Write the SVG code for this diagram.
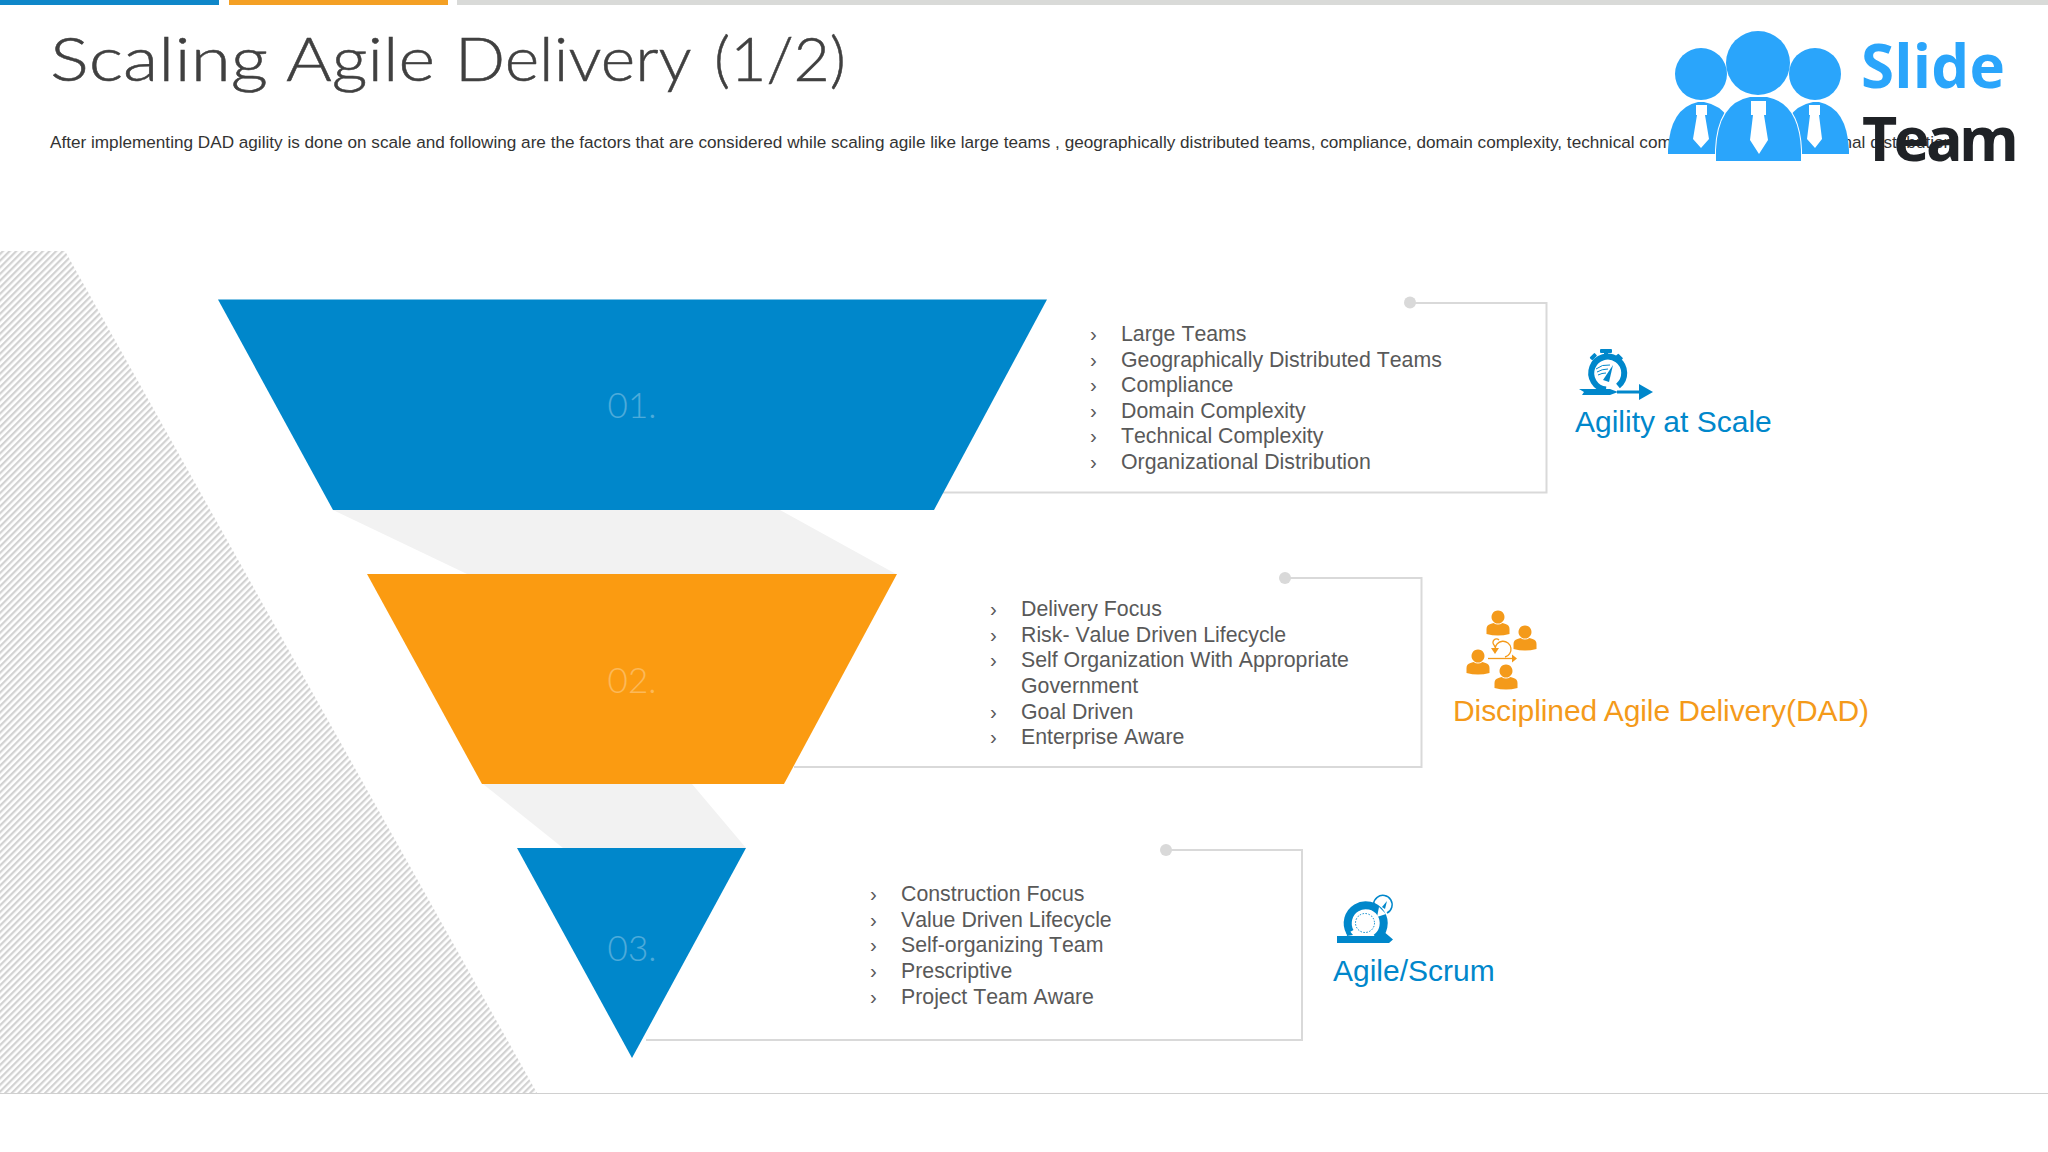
<svg xmlns="http://www.w3.org/2000/svg" width="2048" height="1152" viewBox="0 0 2048 1152">
<style>
.li{font:21.3px "Liberation Sans",Arial,sans-serif;font-kerning:none;fill:#595959}
.ch{font:20.5px "Liberation Sans",Arial,sans-serif;fill:#595959}
.num{font:300 35px "Lato","Liberation Sans",sans-serif;text-anchor:middle;opacity:.3;fill:#fff}
.lab{font:30px "Liberation Sans",Arial,sans-serif}
.conn{fill:none;stroke:#d9d9d9;stroke-width:2}
.blue{fill:#0087cb}.or{fill:#fb9b11}.gap{fill:#f2f2f2}
</style>
<defs>
<pattern id="hatch" width="4.700" height="4.700" patternUnits="userSpaceOnUse" patternTransform="rotate(-45)">
<rect width="4.700" height="4.700" fill="#fff"/><rect width="4.700" height="2.200" fill="#d2d2d2"/>
</pattern>
<path id="person" d="M0-6.500a6.500 6.500 0 1 1-.01 0zM-11.500 17v-5q0-4 4-5l3-1q4.500 3 9 0l3 1q4 1 4 5v5q-11.500 3-23 0z"/>
</defs>
<rect width="2048" height="1152" fill="#fff"/>
<rect x="0" y="0" width="219" height="5" fill="#0f87c9"/>
<rect x="229" y="0" width="219" height="5" fill="#f4a024"/>
<rect x="457" y="0" width="1591" height="5" fill="#d9dad8"/>
<text y="81" style="font:300 61px Lato,'Liberation Sans',sans-serif;fill:#404040;stroke:#404040;stroke-width:.5"><tspan x="50" textLength="218" lengthAdjust="spacingAndGlyphs">Scaling</tspan> <tspan x="286" textLength="149" lengthAdjust="spacingAndGlyphs">Agile</tspan> <tspan x="455" textLength="235" lengthAdjust="spacingAndGlyphs">Delivery</tspan> <tspan x="714" textLength="132" lengthAdjust="spacingAndGlyphs">(1/2)</tspan></text>
<text x="50" y="148" style="font:17.17px 'Liberation Sans',Arial,sans-serif;fill:#333">After implementing DAD agility is done on scale and following are the factors that are considered while scaling agile like large teams , geographically distributed teams, compliance, domain complexity, technical complexity and organizational distribution.</text>
<polygon points="0,251 65,251 537,1093 0,1093" fill="url(#hatch)"/>
<rect x="0" y="1093" width="2048" height="1" fill="#d0d0d0"/>
<g id="connectors">
<path class="conn" d="M1410 303H1546.500V492.500H940"/><circle cx="1410" cy="302.500" r="6" fill="#d9d9d9"/>
<path class="conn" d="M1285 578H1421.500V767H794"/><circle cx="1285" cy="578" r="6" fill="#d9d9d9"/>
<path class="conn" d="M1166 850H1302V1040H646"/><circle cx="1166" cy="850" r="6" fill="#d9d9d9"/>
</g>
<polygon class="gap" points="333,510 780,510 896,574 467,574"/>
<polygon class="gap" points="483,784 692,784 746,848 563,848"/>
<g id="node1">
<polygon class="blue" points="218,299.500 1047,299.500 934,510 333,510"/>
<text class="num" x="632" y="418">01.</text>
<g class="li"><text x="1121" y="341">Large Teams</text><text x="1121" y="366.500">Geographically Distributed Teams</text><text x="1121" y="392">Compliance</text><text x="1121" y="417.500">Domain Complexity</text><text x="1121" y="443">Technical Complexity</text><text x="1121" y="468.500">Organizational Distribution</text></g>
<g class="ch"><text x="1090" y="341">›</text><text x="1090" y="366.500">›</text><text x="1090" y="392">›</text><text x="1090" y="417.500">›</text><text x="1090" y="443">›</text><text x="1090" y="468.500">›</text></g>
<g fill="#0087cb">
<rect x="1600" y="349" width="12" height="4" rx="1"/><rect x="1604" y="352" width="4" height="5"/>
<rect x="1590" y="355" width="7" height="4" rx="1" transform="rotate(-45 1593 357)"/><rect x="1616" y="355" width="7" height="4" rx="1" transform="rotate(45 1619 357)"/>
<path d="M1618 386A16.500 16.500 0 1 0 1606 389.500" fill="none" stroke="#0087cb" stroke-width="6"/>
<path d="M1579 389H1610L1618 392 1610 395H1582l2-3z"/><path d="M1617 390.500h22v-6.500l14 8-14 8v-6.500h-22z"/>
<path d="M1603 380l10-15-4 17z"/>
<g fill="none" stroke="#0087cb" stroke-width="1"><path d="M1596 369q6-5 14-4"/><path d="M1597 372q5-3 11-3"/><path d="M1598 375q4-2 8-2"/></g>
</g>
<text class="lab" x="1575" y="432" fill="#0087cb">Agility at Scale</text>
</g>
<g id="node2">
<polygon class="or" points="367,574 897,574 784,784 482,784"/>
<text class="num" x="632" y="693">02.</text>
<g class="li"><text x="1021" y="616">Delivery Focus</text><text x="1021" y="642">Risk- Value Driven Lifecycle</text><text x="1021" y="667">Self Organization With Appropriate</text><text x="1021" y="693">Government</text><text x="1021" y="718.500">Goal Driven</text><text x="1021" y="744">Enterprise Aware</text></g>
<g class="ch"><text x="990" y="616">›</text><text x="990" y="642">›</text><text x="990" y="667">›</text><text x="990" y="718.500">›</text><text x="990" y="744">›</text></g>
<g fill="#f49a1a">
<use href="#person" x="1498" y="617"/><use href="#person" x="1525" y="632"/><use href="#person" x="1478" y="656"/><use href="#person" x="1506" y="671"/>
</g>
<g fill="none" stroke="#f49a1a" stroke-width="1.300"><path d="M1488 658.500H1513"/><path d="M1505 657a8 8 0 1 0-10-8"/><path d="M1499 640a3.500 3.500 0 1 0-5 5l1 2"/></g>
<polygon points="1512,654.500 1517,658.500 1512,662.500" fill="#f49a1a"/><polygon points="1491,648 1499,648 1495,654" fill="#f49a1a"/>
<text class="lab" x="1453" y="720.500" fill="#f49a1a" textLength="416">Disciplined Agile Delivery(DAD)</text>
</g>
<g id="node3">
<polygon class="blue" points="517,848 746,848 632,1058"/>
<text class="num" x="632" y="961">03.</text>
<g class="li"><text x="901" y="901">Construction Focus</text><text x="901" y="927">Value Driven Lifecycle</text><text x="901" y="952">Self-organizing Team</text><text x="901" y="978">Prescriptive</text><text x="901" y="1004">Project Team Aware</text></g>
<g class="ch"><text x="870" y="901">›</text><text x="870" y="927">›</text><text x="870" y="952">›</text><text x="870" y="978">›</text><text x="870" y="1004">›</text></g>
<g fill="#0087cb">
<path d="M1350 932A18 18 0 1 1 1376 938" fill="none" stroke="#0087cb" stroke-width="8"/>
<path d="M1337 936h40l6-5 6 5h0l4 3.500-4 3.500h-52z"/><path d="M1345 925l8 10-6 1z"/>
<path d="M1379 907l-2 10 9-3z" fill="#fff"/>
<circle cx="1365" cy="923" r="9.500" fill="none" stroke="#0087cb" stroke-width="1" stroke-dasharray="1.500 1.500"/>
<path d="M1376 911a9.300 9.300 0 1 1 11 2" fill="none" stroke="#0087cb" stroke-width="1.500"/>
<path d="M1382 907l5-6-2 8z"/>
</g>
<text class="lab" x="1333" y="981" fill="#0087cb">Agile/Scrum</text>
</g>
<g id="logo">
<g fill="#2aa5fb">
<circle cx="1701" cy="74" r="26"/><circle cx="1815" cy="74" r="26"/><circle cx="1758" cy="63" r="32"/>
<path d="M1668 154V150Q1670 108 1698 102H1704Q1736 108 1738 154z"/>
<path d="M1849 154V150Q1847 108 1819 102H1813Q1781 108 1779 154z"/>
<path d="M1716 161V150Q1718 103 1750 97H1767Q1799 103 1801 150V161z" stroke="#fff" stroke-width="2" paint-order="stroke"/>
</g>
<g fill="#fff">
<path d="M1696 105h11v10h-2l4 24-8 9-8-9 4-24h-1z"/>
<path d="M1809 105h11v10h-1l3 24-7 9-8-9 3-24h-1z"/>
<path d="M1751 101h15v14h-2l4 25-9 14-9-14 3-25h-2z"/>
</g>
<text x="1861" y="88" style="font:700 60px 'Open Sans','Noto Sans',sans-serif;fill:#2aa5fb" textLength="144">Slide</text>
<text x="1862" y="161" style="font:700 61px 'Open Sans','Noto Sans',sans-serif;fill:#1f2226" textLength="157">Team</text>
</g>
</svg>
